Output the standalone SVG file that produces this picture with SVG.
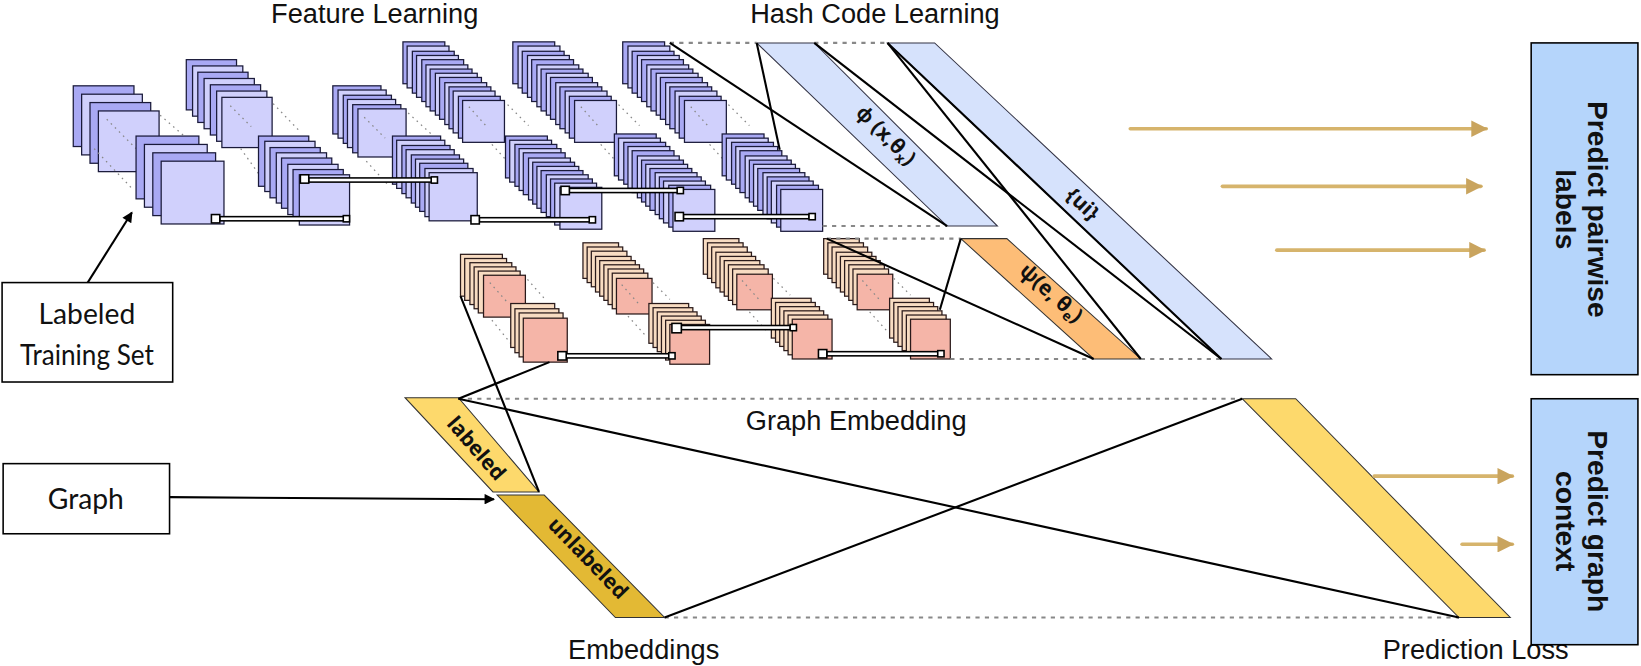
<svg xmlns="http://www.w3.org/2000/svg" xmlns:xlink="http://www.w3.org/1999/xlink" width="1641" height="666" viewBox="0 0 1641 666">
<style>
.bd{fill:#a9a9f4;stroke:#1a1a3a;stroke-width:1.2}
.bl{fill:#d0d0fc;stroke:#1a1a3a;stroke-width:1.2}
.rp{fill:#f8dcc2;stroke:#2a1a1a;stroke-width:1.2}
.rs{fill:#f5b5a8;stroke:#2a1a1a;stroke-width:1.2}
.dot{stroke:#888;stroke-width:1.2;stroke-dasharray:1.5 4;fill:none}
.dash{stroke:#888;stroke-width:2;stroke-dasharray:4 5;fill:none}
.ln{stroke:#000;stroke-width:2;fill:none}
.cw{fill:#fff;stroke:#000;stroke-width:1.5}
.gold{stroke:#d6b46c;stroke-width:3.5;stroke-linecap:round;fill:none}
.t{font-family:"Liberation Sans",Arial,sans-serif;font-size:26px;fill:#111;text-anchor:middle}
.bx{font-family:Lato,"Open Sans",sans-serif;font-size:27px;fill:#111;text-anchor:middle}
.bb{font-family:"Liberation Sans",Arial,sans-serif;font-weight:bold;font-size:27px;fill:#111;text-anchor:middle}
.lb{font-family:"Open Sans","Liberation Sans",sans-serif;font-weight:bold;font-size:20px;fill:#111;text-anchor:middle}
</style>
<defs>
<rect id="d58" class="bd" width="58" height="58"/><rect id="l58" class="bl" width="58" height="58"/>
<rect id="d60" class="bd" width="60" height="60"/><rect id="l60" class="bl" width="60" height="60"/>
<rect id="d48" class="bd" width="48" height="48"/><rect id="l48" class="bl" width="48" height="48"/>
<rect id="d46" class="bd" width="46" height="46"/><rect id="l46" class="bl" width="46" height="46"/>
<rect id="d40" class="bd" width="40" height="40"/><rect id="l40" class="bl" width="40" height="40"/>
<rect id="p40" class="rp" width="40" height="40"/><rect id="s40" class="rs" width="40" height="40"/>
<rect id="p42" class="rp" width="42" height="42"/><rect id="s42" class="rs" width="42" height="42"/>
<rect id="p34" class="rp" width="34" height="34"/><rect id="s34" class="rs" width="34" height="34"/>
<rect id="p38" class="rp" width="38" height="38"/><rect id="s38" class="rs" width="38" height="38"/>
<marker id="ga" viewBox="0 0 10 10" refX="9" refY="5" markerWidth="5" markerHeight="4.5" orient="auto" markerUnits="strokeWidth"><path d="M0,0L10,5L0,10z" fill="#c9a45e"/></marker>
<marker id="ka" viewBox="0 0 10 10" refX="9" refY="5" markerWidth="6" markerHeight="5" orient="auto" markerUnits="strokeWidth"><path d="M0,0L10,5L0,10z" fill="#000"/></marker>
</defs>
<rect width="1641" height="666" fill="#fff"/>
<g transform="scale(1.0466)">
<text class="t" x="358" y="22">Feature Learning</text>
<text class="t" x="836" y="22">Hash Code Learning</text>
<text class="t" x="818" y="411">Graph Embedding</text>
<text class="t" x="615" y="630">Embeddings</text>
<text class="t" x="1410" y="630">Prediction Loss</text>

<g id="blue-stacks">
<g id="b1">
<use href="#d58" x="70" y="82"/><use href="#l58" x="78" y="90"/><use href="#d58" x="86" y="98"/><use href="#l58" x="94" y="106"/>
<line class="dot" x1="102" y1="114" x2="130" y2="142"/><line class="dot" x1="153" y1="110" x2="183" y2="136"/><line class="dot" x1="90" y1="142" x2="126" y2="180"/>
<use href="#d60" x="130" y="130"/><use href="#l60" x="138" y="138"/><use href="#d60" x="146" y="146"/><use href="#l60" x="154" y="154"/>
</g>
<g id="b2">
<use href="#d48" x="178" y="57"/><use href="#l48" x="184" y="63"/><use href="#d48" x="189" y="69"/><use href="#l48" x="195" y="75"/><use href="#d48" x="201" y="81"/><use href="#l48" x="207" y="87"/><use href="#l48" x="212" y="93"/>
<line class="dot" x1="220" y1="101" x2="240" y2="121"/><line class="dot" x1="261" y1="99" x2="285" y2="124"/><line class="dot" x1="230" y1="142" x2="250" y2="170"/>
<use href="#d48" x="247" y="130"/><use href="#l48" x="253" y="135"/><use href="#d48" x="258" y="141"/><use href="#l48" x="264" y="146"/><use href="#d48" x="269" y="151"/><use href="#l48" x="275" y="157"/><use href="#d48" x="280" y="162"/><use href="#l48" x="286" y="167"/>
</g>
<g id="b3">
<use href="#d46" x="318" y="82"/><use href="#l46" x="323" y="86"/><use href="#d46" x="328" y="91"/><use href="#l46" x="332" y="95"/><use href="#d46" x="337" y="100"/><use href="#l46" x="342" y="104"/>
<line class="dot" x1="348" y1="112" x2="368" y2="132"/><line class="dot" x1="390" y1="108" x2="412" y2="128"/><line class="dot" x1="350" y1="154" x2="372" y2="178"/>
<use href="#d46" x="375" y="130"/><use href="#l46" x="379" y="134"/><use href="#d46" x="384" y="139"/><use href="#l46" x="388" y="143"/><use href="#d46" x="393" y="148"/><use href="#l46" x="397" y="152"/><use href="#d46" x="401" y="156"/><use href="#l46" x="406" y="161"/><use href="#l46" x="410" y="165"/>
</g>
<g id="b4">
<use href="#d40" x="385" y="40"/><use href="#l40" x="389" y="44"/><use href="#d40" x="394" y="49"/><use href="#l40" x="398" y="53"/><use href="#d40" x="403" y="57"/><use href="#l40" x="407" y="62"/><use href="#d40" x="411" y="66"/><use href="#l40" x="416" y="70"/><use href="#d40" x="420" y="74"/><use href="#l40" x="425" y="79"/><use href="#d40" x="429" y="83"/><use href="#l40" x="433" y="87"/><use href="#d40" x="438" y="92"/><use href="#l40" x="442" y="96"/>
<line class="dot" x1="448" y1="102" x2="466" y2="122"/><line class="dot" x1="485" y1="100" x2="505" y2="120"/><line class="dot" x1="470" y1="138" x2="490" y2="160"/>
<use href="#d40" x="483" y="130"/><use href="#l40" x="487" y="134"/><use href="#d40" x="492" y="138"/><use href="#l40" x="496" y="142"/><use href="#d40" x="500" y="146"/><use href="#l40" x="505" y="151"/><use href="#d40" x="509" y="155"/><use href="#l40" x="513" y="159"/><use href="#d40" x="517" y="163"/><use href="#l40" x="522" y="167"/><use href="#d40" x="526" y="171"/><use href="#l40" x="530" y="175"/><use href="#l40" x="535" y="179"/>
</g>
<g id="b5">
<use href="#d40" x="490" y="40"/><use href="#l40" x="495" y="44"/><use href="#d40" x="499" y="49"/><use href="#l40" x="504" y="53"/><use href="#d40" x="508" y="57"/><use href="#l40" x="513" y="62"/><use href="#d40" x="517" y="66"/><use href="#l40" x="522" y="70"/><use href="#d40" x="526" y="74"/><use href="#l40" x="531" y="79"/><use href="#d40" x="535" y="83"/><use href="#l40" x="540" y="87"/><use href="#d40" x="544" y="92"/><use href="#l40" x="549" y="96"/>
<line class="dot" x1="555" y1="102" x2="573" y2="122"/><line class="dot" x1="591" y1="100" x2="611" y2="120"/><line class="dot" x1="574" y1="138" x2="594" y2="160"/>
<use href="#d40" x="587" y="128"/><use href="#l40" x="591" y="132"/><use href="#d40" x="596" y="136"/><use href="#l40" x="600" y="140"/><use href="#d40" x="604" y="144"/><use href="#l40" x="609" y="149"/><use href="#d40" x="613" y="153"/><use href="#l40" x="617" y="157"/><use href="#d40" x="621" y="161"/><use href="#l40" x="626" y="165"/><use href="#d40" x="630" y="169"/><use href="#l40" x="634" y="173"/><use href="#d40" x="639" y="177"/><use href="#l40" x="643" y="181"/>
</g>
<g id="b6">
<use href="#d40" x="595" y="40"/><use href="#l40" x="600" y="44"/><use href="#d40" x="604" y="49"/><use href="#l40" x="609" y="53"/><use href="#d40" x="613" y="57"/><use href="#l40" x="618" y="62"/><use href="#d40" x="622" y="66"/><use href="#l40" x="627" y="70"/><use href="#d40" x="631" y="74"/><use href="#l40" x="636" y="79"/><use href="#d40" x="640" y="83"/><use href="#l40" x="645" y="87"/><use href="#d40" x="649" y="92"/><use href="#l40" x="654" y="96"/>
<line class="dot" x1="660" y1="102" x2="678" y2="122"/><line class="dot" x1="696" y1="100" x2="716" y2="120"/><line class="dot" x1="678" y1="138" x2="698" y2="160"/>
<use href="#d40" x="690" y="128"/><use href="#l40" x="694" y="132"/><use href="#d40" x="699" y="136"/><use href="#l40" x="703" y="140"/><use href="#d40" x="707" y="144"/><use href="#l40" x="712" y="149"/><use href="#d40" x="716" y="153"/><use href="#l40" x="720" y="157"/><use href="#d40" x="724" y="161"/><use href="#l40" x="729" y="165"/><use href="#d40" x="733" y="169"/><use href="#l40" x="737" y="173"/><use href="#d40" x="742" y="177"/><use href="#l40" x="746" y="181"/>
</g>
</g>

<g id="red-stacks">
<g id="r1">
<use href="#p40" x="440" y="243"/><use href="#p40" x="444" y="247"/><use href="#p40" x="449" y="251"/><use href="#p40" x="453" y="255"/><use href="#p40" x="457" y="259"/><use href="#s40" x="462" y="263"/>
<line class="dot" x1="468" y1="270" x2="484" y2="288"/><line class="dot" x1="504" y1="267" x2="520" y2="285"/><line class="dot" x1="470" y1="306" x2="488" y2="328"/>
<use href="#p42" x="488" y="290"/><use href="#p42" x="492" y="295"/><use href="#p42" x="496" y="299"/><use href="#s42" x="500" y="304"/>
</g>
<g id="r2">
<use href="#p34" x="557" y="232"/><use href="#p34" x="561" y="236"/><use href="#p34" x="565" y="240"/><use href="#p34" x="569" y="245"/><use href="#p34" x="573" y="249"/><use href="#p34" x="577" y="253"/><use href="#p34" x="581" y="257"/><use href="#p34" x="585" y="261"/><use href="#s34" x="589" y="266"/>
<line class="dot" x1="594" y1="272" x2="610" y2="290"/><line class="dot" x1="624" y1="270" x2="640" y2="286"/><line class="dot" x1="600" y1="302" x2="618" y2="322"/>
<use href="#p38" x="620" y="290"/><use href="#p38" x="624" y="294"/><use href="#p38" x="628" y="298"/><use href="#p38" x="632" y="302"/><use href="#p38" x="636" y="306"/><use href="#s38" x="640" y="310"/>
</g>
<g id="r3">
<use href="#p34" x="672" y="228"/><use href="#p34" x="676" y="232"/><use href="#p34" x="680" y="236"/><use href="#p34" x="684" y="241"/><use href="#p34" x="688" y="245"/><use href="#p34" x="692" y="249"/><use href="#p34" x="696" y="253"/><use href="#p34" x="700" y="257"/><use href="#s34" x="704" y="262"/>
<line class="dot" x1="709" y1="268" x2="725" y2="286"/><line class="dot" x1="739" y1="266" x2="755" y2="282"/><line class="dot" x1="716" y1="298" x2="734" y2="318"/>
<use href="#p38" x="737" y="285"/><use href="#p38" x="741" y="289"/><use href="#p38" x="745" y="293"/><use href="#p38" x="749" y="297"/><use href="#p38" x="753" y="301"/><use href="#s38" x="757" y="305"/>
</g>
<g id="r4">
<use href="#p34" x="787" y="228"/><use href="#p34" x="791" y="232"/><use href="#p34" x="795" y="236"/><use href="#p34" x="799" y="241"/><use href="#p34" x="803" y="245"/><use href="#p34" x="807" y="249"/><use href="#p34" x="811" y="253"/><use href="#p34" x="815" y="257"/><use href="#s34" x="819" y="262"/>
<line class="dot" x1="824" y1="268" x2="840" y2="286"/><line class="dot" x1="854" y1="266" x2="870" y2="282"/><line class="dot" x1="831" y1="298" x2="849" y2="318"/>
<use href="#p38" x="850" y="285"/><use href="#p38" x="854" y="289"/><use href="#p38" x="858" y="293"/><use href="#p38" x="862" y="297"/><use href="#p38" x="866" y="301"/><use href="#s38" x="870" y="305"/>
</g>
</g>

<g id="bands">
<g id="phi"><polygon points="723,41 778,41 953,216 905,216" fill="#d6e2fc" stroke="#334" stroke-width="1"/>
<text class="lb" transform="translate(842,134) rotate(45)">ɸ (x,θ<tspan font-size="13" dy="4">x</tspan><tspan dy="-4">)</tspan></text></g>
<g id="ui"><polygon points="848,41 893,41 1215,343 1167,343" fill="#d6e2fc" stroke="#334" stroke-width="1"/>
<text class="lb" transform="translate(1030,200) rotate(43)">{ui}</text></g>
<g id="psi"><polygon points="918,228 962,228 1090,343 1045,343" fill="#fdbd77" stroke="#333" stroke-width="1"/>
<text class="lb" transform="translate(1000,285) rotate(42)">ψ(e, θ<tspan font-size="13" dy="4">e</tspan><tspan dy="-4">)</tspan></text></g>
<g id="labeled"><polygon points="387,380 438,380 515,470 471,470" fill="#fdd96c" stroke="#333" stroke-width="1"/>
<text class="lb" transform="translate(450,433) rotate(49)">labeled</text></g>
<g id="unlabeled"><polygon points="475,473 520,473 635,590 588,590" fill="#e3b934" stroke="#333" stroke-width="1"/>
<text class="lb" transform="translate(557,538) rotate(46)">unlabeled</text></g>
<g id="loss"><polygon points="1187,381 1238,381 1443,590 1394,590" fill="#fdd96c" stroke="#333" stroke-width="1"/></g>
</g>

<g id="connectors">
<line class="dash" x1="640" y1="41" x2="723" y2="41"/>
<line class="dash" x1="778" y1="41" x2="848" y2="41"/>
<line class="dash" x1="786" y1="216" x2="905" y2="216"/>
<line class="dash" x1="790" y1="228" x2="918" y2="228"/>
<line class="dash" x1="908" y1="343" x2="1045" y2="343"/>
<line class="dash" x1="1090" y1="343" x2="1167" y2="343"/>
<line class="dash" x1="438" y1="381" x2="1187" y2="381"/>
<line class="dash" x1="635" y1="590" x2="1394" y2="590"/>
<line class="ln" x1="640" y1="41" x2="905" y2="216"/>
<line class="ln" x1="723" y1="41" x2="745" y2="143"/>
<line class="ln" x1="778" y1="41" x2="1167" y2="343"/>
<line class="ln" x1="848" y1="41" x2="1090" y2="343"/>
<line class="ln" x1="848" y1="41" x2="1167" y2="343"/>
<line class="ln" x1="790" y1="228" x2="1045" y2="343"/>
<line class="ln" x1="918" y1="228" x2="898" y2="296"/>
<line class="ln" x1="440" y1="283" x2="515" y2="470"/>
<line class="ln" x1="438" y1="381" x2="525" y2="346"/>
<line class="ln" x1="438" y1="381" x2="1394" y2="590"/>
<line class="ln" x1="635" y1="590" x2="1187" y2="381"/>
<line class="ln" x1="80" y1="276" x2="126" y2="203" marker-end="url(#ka)"/>
<line class="ln" x1="162" y1="475" x2="472" y2="477" marker-end="url(#ka)"/>
<rect class="cw" x="210" y="207" width="120" height="4"/><rect class="cw" x="202" y="205" width="8" height="8"/><rect class="cw" x="328" y="206" width="6" height="6"/>
<rect class="cw" x="295" y="170" width="118" height="4"/><rect class="cw" x="287" y="167" width="8" height="8"/><rect class="cw" x="412" y="169" width="6" height="6"/>
<rect class="cw" x="458" y="208" width="106" height="4"/><rect class="cw" x="450" y="206" width="8" height="8"/><rect class="cw" x="563" y="207" width="6" height="6"/>
<rect class="cw" x="544" y="180" width="104" height="4"/><rect class="cw" x="536" y="178" width="8" height="8"/><rect class="cw" x="647" y="179" width="6" height="6"/>
<rect class="cw" x="653" y="205" width="120" height="4"/><rect class="cw" x="645" y="203" width="8" height="8"/><rect class="cw" x="773" y="204" width="6" height="6"/>
<rect class="cw" x="541" y="338" width="100" height="4"/><rect class="cw" x="533" y="336" width="8" height="8"/><rect class="cw" x="639" y="337" width="6" height="6"/>
<rect class="cw" x="651" y="311" width="104" height="4"/><rect class="cw" x="642" y="309" width="9" height="9"/><rect class="cw" x="755" y="310" width="6" height="6"/>
<rect class="cw" x="790" y="336" width="106" height="4"/><rect class="cw" x="782" y="334" width="8" height="8"/><rect class="cw" x="896" y="335" width="6" height="6"/>
<line class="gold" x1="1080" y1="123" x2="1420" y2="123" marker-end="url(#ga)"/>
<line class="gold" x1="1168" y1="178" x2="1415" y2="178" marker-end="url(#ga)"/>
<line class="gold" x1="1220" y1="239" x2="1418" y2="239" marker-end="url(#ga)"/>
<line class="gold" x1="1313" y1="455" x2="1445" y2="455" marker-end="url(#ga)"/>
<line class="gold" x1="1397" y1="520" x2="1445" y2="520" marker-end="url(#ga)"/>
</g>

<g id="training-set"><rect x="2" y="270" width="163" height="95" fill="#fff" stroke="#000" stroke-width="1.5"/>
<text class="bx" x="83" y="310">Labeled</text><text class="bx" x="83" y="349" textLength="128" lengthAdjust="spacingAndGlyphs">Training Set</text></g>
<g id="graph"><rect x="3" y="443" width="159" height="67" fill="#fff" stroke="#000" stroke-width="1.5"/>
<text class="bx" x="82" y="486">Graph</text></g>
<g id="pairwise"><rect x="1463" y="41" width="102" height="317" fill="#b5d5fb" stroke="#000" stroke-width="1.5"/>
<text class="bb" transform="translate(1514,200) rotate(90)"><tspan x="0" y="-3">Predict pairwise</tspan><tspan x="0" y="27">labels</tspan></text></g>
<g id="context"><rect x="1463" y="381" width="102" height="235" fill="#b5d5fb" stroke="#000" stroke-width="1.5"/>
<text class="bb" transform="translate(1514,498) rotate(90)"><tspan x="0" y="-3">Predict graph</tspan><tspan x="0" y="27">context</tspan></text></g>
</g>
</svg>
